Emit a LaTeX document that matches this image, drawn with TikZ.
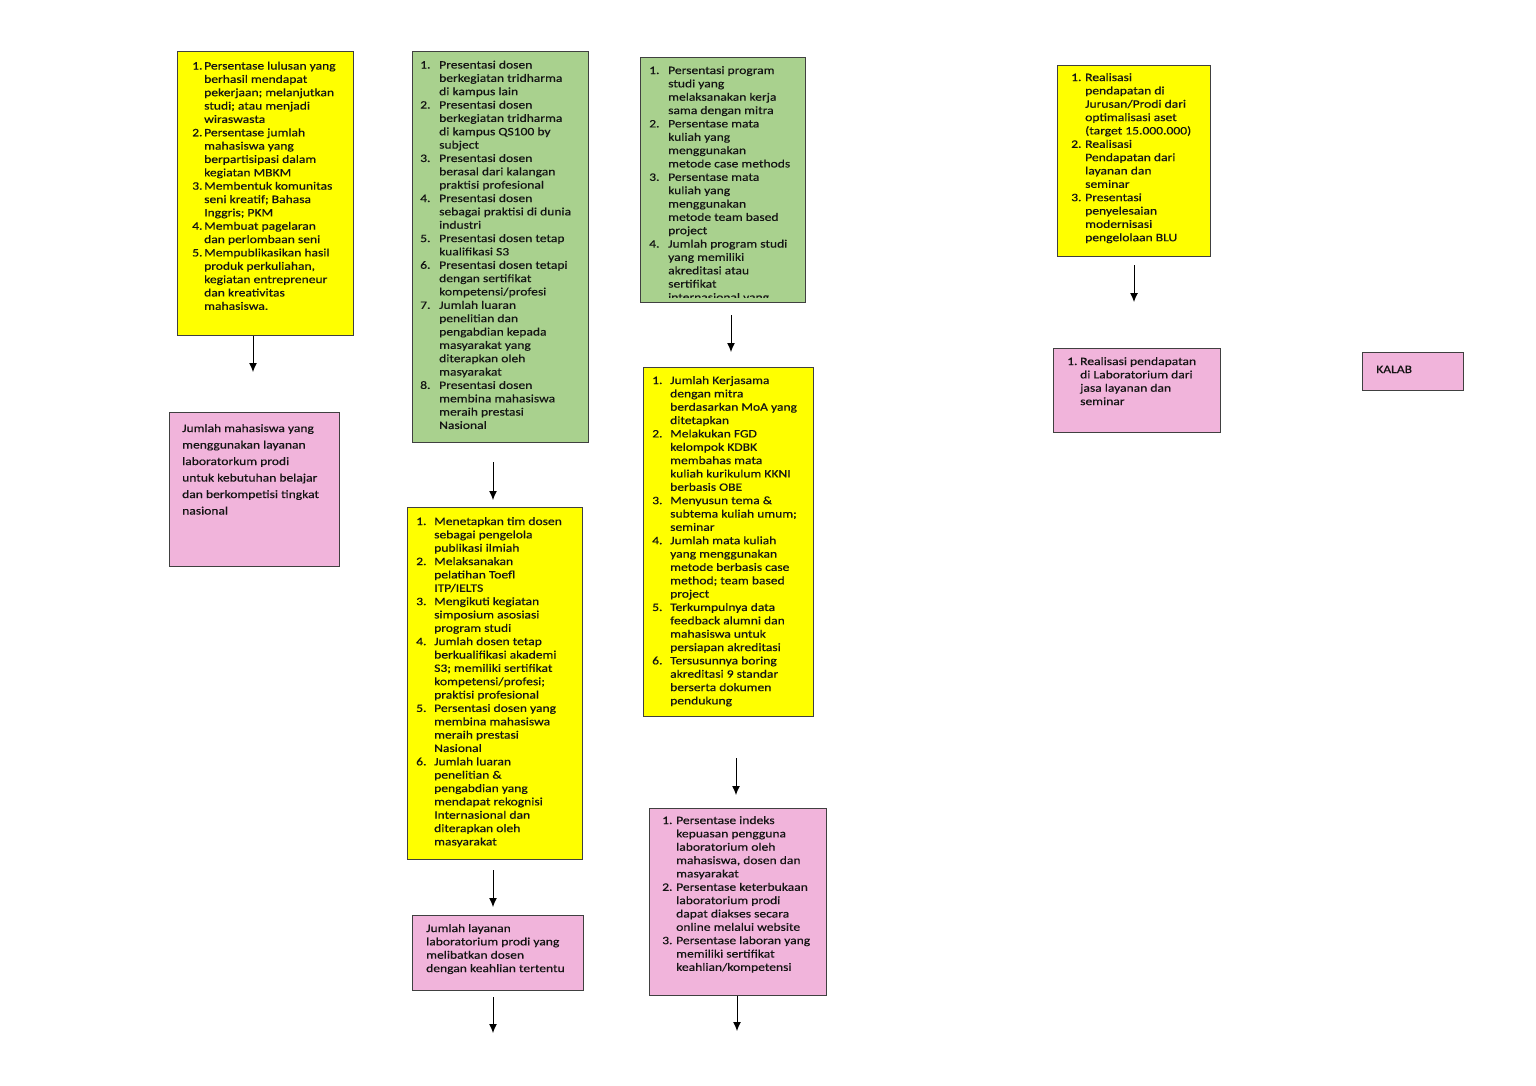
\documentclass[tikz,border=0pt]{standalone}
\usepackage{fontspec}
\setmainfont{Carlito}[FakeStretch=1.2,FakeBold=0.4]
\usetikzlibrary{arrows.meta}
\definecolor{yelcol}{HTML}{FFFF00}
\definecolor{grncol}{HTML}{A9D18E}
\definecolor{pnkcol}{HTML}{F1B4DB}
\definecolor{bordcol}{HTML}{404040}
\definecolor{txtcol}{HTML}{141414}
\tikzset{
  box/.style={draw=bordcol, line width=1pt, anchor=north west, inner sep=0pt, outer sep=0pt},
  yel/.style={box, fill=yelcol},
  grn/.style={box, fill=grncol},
  pnk/.style={box, fill=pnkcol},
  txt/.style={anchor=base west, inner sep=0pt, text=txtcol, font=\fontsize{11.3}{13.35}\selectfont},
  txtw/.style={anchor=base west, inner sep=0pt, text=txtcol, font=\fontsize{11.3}{16.5}\selectfont},
  arr/.style={-{Latex[length=9pt,width=8pt]}, line width=1pt, black}
}
\begin{document}
\begin{tikzpicture}[x=1pt,y=-1pt]
\useasboundingbox[fill=white] (0,0) rectangle (1536,1085);

% ---------- Column 1 ----------
\node[yel, minimum width=176pt, minimum height=284pt] (y1) at (177,51) {};
\node[txt] (t1) at (192,69.5) {\begin{tabular}[t]{@{}p{12pt}@{}l@{}}
1. & Persentase lulusan yang\\ & berhasil mendapat\\ & pekerjaan; melanjutkan\\ & studi; atau menjadi\\ & wiraswasta\\
2. & Persentase jumlah\\ & mahasiswa yang\\ & berpartisipasi dalam\\ & kegiatan MBKM\\
3. & Membentuk komunitas\\ & seni kreatif; Bahasa\\ & Inggris; PKM\\
4. & Membuat pagelaran\\ & dan perlombaan seni\\
5. & Mempublikasikan hasil\\ & produk perkuliahan,\\ & kegiatan entrepreneur\\ & dan kreativitas\\ & mahasiswa.
\end{tabular}};

\node[pnk, minimum width=170pt, minimum height=154pt] (p1) at (169,412) {};
\node[txtw] (tp1) at (182,432) {\begin{tabular}[t]{@{}l@{}}
Jumlah mahasiswa yang\\ menggunakan layanan\\ laboratorkum prodi\\ untuk kebutuhan belajar\\ dan berkompetisi tingkat\\ nasional
\end{tabular}};

% ---------- Column 2 ----------
\node[grn, minimum width=176pt, minimum height=391pt] (g2) at (412,51) {};
\node[txt] (t2) at (420,68.5) {\begin{tabular}[t]{@{}p{19pt}@{}l@{}}
1. & Presentasi dosen\\ & berkegiatan tridharma\\ & di kampus lain\\
2. & Presentasi dosen\\ & berkegiatan tridharma\\ & di kampus QS100 by\\ & subject\\
3. & Presentasi dosen\\ & berasal dari kalangan\\ & praktisi profesional\\
4. & Presentasi dosen\\ & sebagai praktisi di dunia\\ & industri\\
5. & Presentasi dosen tetap\\ & kualifikasi S3\\
6. & Presentasi dosen tetapi\\ & dengan sertifikat\\ & kompetensi/profesi\\
7. & Jumlah luaran\\ & penelitian dan\\ & pengabdian kepada\\ & masyarakat yang\\ & diterapkan oleh\\ & masyarakat\\
8. & Presentasi dosen\\ & membina mahasiswa\\ & meraih prestasi\\ & Nasional
\end{tabular}};

\node[yel, minimum width=175pt, minimum height=352pt] (y2) at (407,507) {};
\node[txt] (t3) at (416,525) {\begin{tabular}[t]{@{}p{18pt}@{}l@{}}
1. & Menetapkan tim dosen\\ & sebagai pengelola\\ & publikasi ilmiah\\
2. & Melaksanakan\\ & pelatihan Toefl\\ & ITP/IELTS\\
3. & Mengikuti kegiatan\\ & simposium asosiasi\\ & program studi\\
4. & Jumlah dosen tetap\\ & berkualifikasi akademi\\ & S3; memiliki sertifikat\\ & kompetensi/profesi;\\ & praktisi profesional\\
5. & Persentasi dosen yang\\ & membina mahasiswa\\ & meraih prestasi\\ & Nasional\\
6. & Jumlah luaran\\ & penelitian \&\\ & pengabdian yang\\ & mendapat rekognisi\\ & Internasional dan\\ & diterapkan oleh\\ & masyarakat
\end{tabular}};

\node[pnk, minimum width=171pt, minimum height=75pt] (p2) at (412,915) {};
\node[txt] (tp2) at (426,932) {\begin{tabular}[t]{@{}l@{}}
Jumlah layanan\\ laboratorium prodi yang\\ melibatkan dosen\\ dengan keahlian tertentu
\end{tabular}};

% ---------- Column 3 ----------
\node[grn, minimum width=165pt, minimum height=245pt] (g3) at (640,57) {};
\begin{scope}
\clip (640.5,57.5) rectangle (804.5,297.5);
\node[txt] (t4) at (649,74) {\begin{tabular}[t]{@{}p{19pt}@{}l@{}}
1. & Persentasi program\\ & studi yang\\ & melaksanakan kerja\\ & sama dengan mitra\\
2. & Persentase mata\\ & kuliah yang\\ & menggunakan\\ & metode case methods\\
3. & Persentase mata\\ & kuliah yang\\ & menggunakan\\ & metode team based\\ & project\\
4. & Jumlah program studi\\ & yang memiliki\\ & akreditasi atau\\ & sertifikat\\ & internasional yang
\end{tabular}};
\end{scope}
\draw[draw=bordcol, line width=1pt] (g3.north west) rectangle (g3.south east);

\node[yel, minimum width=170pt, minimum height=349pt] (y3) at (643,367) {};
\node[txt] (t5) at (652,384) {\begin{tabular}[t]{@{}p{18pt}@{}l@{}}
1. & Jumlah Kerjasama\\ & dengan mitra\\ & berdasarkan MoA yang\\ & ditetapkan\\
2. & Melakukan FGD\\ & kelompok KDBK\\ & membahas mata\\ & kuliah kurikulum KKNI\\ & berbasis OBE\\
3. & Menyusun tema \&\\ & subtema kuliah umum;\\ & seminar\\
4. & Jumlah mata kuliah\\ & yang menggunakan\\ & metode berbasis case\\ & method; team based\\ & project\\
5. & Terkumpulnya data\\ & feedback alumni dan\\ & mahasiswa untuk\\ & persiapan akreditasi\\
6. & Tersusunnya boring\\ & akreditasi 9 standar\\ & berserta dokumen\\ & pendukung
\end{tabular}};

\node[pnk, minimum width=177pt, minimum height=187pt] (p3) at (649,808) {};
\node[txt] (tp3) at (662,824) {\begin{tabular}[t]{@{}p{14pt}@{}l@{}}
1. & Persentase indeks\\ & kepuasan pengguna\\ & laboratorium oleh\\ & mahasiswa, dosen dan\\ & masyarakat\\
2. & Persentase keterbukaan\\ & laboratorium prodi\\ & dapat diakses secara\\ & online melalui website\\
3. & Persentase laboran yang\\ & memiliki sertifikat\\ & keahlian/kompetensi
\end{tabular}};

% ---------- Column 4 ----------
\node[yel, minimum width=153pt, minimum height=191pt] (y4) at (1057,65) {};
\node[txt] (t6) at (1071,81) {\begin{tabular}[t]{@{}p{14pt}@{}l@{}}
1. & Realisasi\\ & pendapatan di\\ & Jurusan/Prodi dari\\ & optimalisasi aset\\ & (target 15.000.000)\\
2. & Realisasi\\ & Pendapatan dari\\ & layanan dan\\ & seminar\\
3. & Presentasi\\ & penyelesaian\\ & modernisasi\\ & pengelolaan BLU
\end{tabular}};

\node[pnk, minimum width=167pt, minimum height=84pt] (p4) at (1053,348) {};
\node[txt] (tp4) at (1067,365) {\begin{tabular}[t]{@{}p{13pt}@{}l@{}}
1. & Realisasi pendapatan\\ & di Laboratorium dari\\ & jasa layanan dan\\ & seminar
\end{tabular}};

\node[pnk, minimum width=101pt, minimum height=38pt] (k) at (1362,352) {};
\node[txt] (tk) at (1376,373) {KALAB};

% ---------- Arrows ----------
\coordinate (a1e) at (253,372);
\draw[arr] (253,336) coordinate (a1s) -- (a1e);
\coordinate (a2s) at (493,462); \coordinate (a2e) at (493,500);
\draw[arr] (a2s) -- (a2e);
\coordinate (a3s) at (493,870); \coordinate (a3e) at (493,907);
\draw[arr] (a3s) -- (a3e);
\coordinate (a4s) at (493,997); \coordinate (a4e) at (493,1033);
\draw[arr] (a4s) -- (a4e);
\coordinate (a5s) at (731,315); \coordinate (a5e) at (731,352);
\draw[arr] (a5s) -- (a5e);
\coordinate (a6s) at (736,758); \coordinate (a6e) at (736,795);
\draw[arr] (a6s) -- (a6e);
\coordinate (a7s) at (737,996); \coordinate (a7e) at (737,1031);
\draw[arr] (a7s) -- (a7e);
\coordinate (a8s) at (1134,265); \coordinate (a8e) at (1134,302);
\draw[arr] (a8s) -- (a8e);
\end{tikzpicture}
\end{document}
